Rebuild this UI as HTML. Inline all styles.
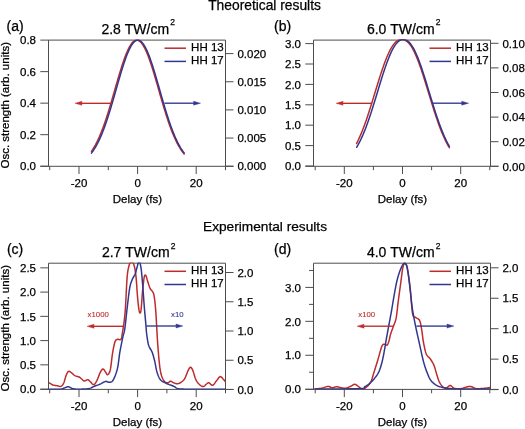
<!DOCTYPE html><html><head><meta charset="utf-8"><style>html,body{margin:0;padding:0;background:#fff;width:525px;height:429px;overflow:hidden}svg{display:block;filter:blur(0.3px)}text{font-family:"Liberation Sans",sans-serif;font-kerning:none;stroke-width:0.25px}</style></head><body>
<svg width="525" height="429" viewBox="0 0 525 429">
<rect width="525" height="429" fill="#fff"/>
<text x="208.20" y="9.60" font-size="13.8" text-anchor="start" fill="#000" stroke="#000">Theoretical results</text>
<text x="203.00" y="231.30" font-size="13.7" text-anchor="start" fill="#000" stroke="#000">Experimental results</text>
<clipPath id="ca"><rect x="48.5" y="39.300000000000004" width="177.0" height="127.00000000000001"/></clipPath>
<path d="M48.50,166.30 L48.50,40.10 L225.50,40.10 L225.50,166.30" fill="none" stroke="#4d4d4d" stroke-width="1" stroke-linejoin="round"/>
<line x1="40.30" y1="166.30" x2="233.50" y2="166.30" stroke="#4d4d4d" stroke-width="1.0"/>
<line x1="40.30" y1="166.20" x2="48.50" y2="166.20" stroke="#4d4d4d" stroke-width="1.0"/>
<text x="36.00" y="170.40" font-size="11.5" text-anchor="end" fill="#000" stroke="#000">0.0</text>
<line x1="40.30" y1="134.68" x2="48.50" y2="134.68" stroke="#4d4d4d" stroke-width="1.0"/>
<text x="36.00" y="138.88" font-size="11.5" text-anchor="end" fill="#000" stroke="#000">0.2</text>
<line x1="40.30" y1="103.16" x2="48.50" y2="103.16" stroke="#4d4d4d" stroke-width="1.0"/>
<text x="36.00" y="107.36" font-size="11.5" text-anchor="end" fill="#000" stroke="#000">0.4</text>
<line x1="40.30" y1="71.64" x2="48.50" y2="71.64" stroke="#4d4d4d" stroke-width="1.0"/>
<text x="36.00" y="75.84" font-size="11.5" text-anchor="end" fill="#000" stroke="#000">0.6</text>
<line x1="40.30" y1="40.12" x2="48.50" y2="40.12" stroke="#4d4d4d" stroke-width="1.0"/>
<text x="36.00" y="44.32" font-size="11.5" text-anchor="end" fill="#000" stroke="#000">0.8</text>
<line x1="225.50" y1="166.20" x2="233.50" y2="166.20" stroke="#4d4d4d" stroke-width="1.0"/>
<text x="237.40" y="170.40" font-size="11.5" text-anchor="start" fill="#000" stroke="#000">0.000</text>
<line x1="225.50" y1="138.05" x2="233.50" y2="138.05" stroke="#4d4d4d" stroke-width="1.0"/>
<text x="237.40" y="142.25" font-size="11.5" text-anchor="start" fill="#000" stroke="#000">0.005</text>
<line x1="225.50" y1="109.90" x2="233.50" y2="109.90" stroke="#4d4d4d" stroke-width="1.0"/>
<text x="237.40" y="114.10" font-size="11.5" text-anchor="start" fill="#000" stroke="#000">0.010</text>
<line x1="225.50" y1="81.75" x2="233.50" y2="81.75" stroke="#4d4d4d" stroke-width="1.0"/>
<text x="237.40" y="85.95" font-size="11.5" text-anchor="start" fill="#000" stroke="#000">0.015</text>
<line x1="225.50" y1="53.60" x2="233.50" y2="53.60" stroke="#4d4d4d" stroke-width="1.0"/>
<text x="237.40" y="57.80" font-size="11.5" text-anchor="start" fill="#000" stroke="#000">0.020</text>
<line x1="49.70" y1="166.30" x2="49.70" y2="170.20" stroke="#4d4d4d" stroke-width="1.0"/>
<line x1="79.00" y1="166.30" x2="79.00" y2="174.00" stroke="#4d4d4d" stroke-width="1.0"/>
<text x="79.00" y="186.50" font-size="11.5" text-anchor="middle" fill="#000" stroke="#000">-20</text>
<line x1="108.30" y1="166.30" x2="108.30" y2="170.20" stroke="#4d4d4d" stroke-width="1.0"/>
<line x1="137.60" y1="166.30" x2="137.60" y2="174.00" stroke="#4d4d4d" stroke-width="1.0"/>
<text x="137.60" y="186.50" font-size="11.5" text-anchor="middle" fill="#000" stroke="#000">0</text>
<line x1="166.90" y1="166.30" x2="166.90" y2="170.20" stroke="#4d4d4d" stroke-width="1.0"/>
<line x1="196.20" y1="166.30" x2="196.20" y2="174.00" stroke="#4d4d4d" stroke-width="1.0"/>
<text x="196.20" y="186.50" font-size="11.5" text-anchor="middle" fill="#000" stroke="#000">20</text>
<line x1="225.50" y1="166.30" x2="225.50" y2="170.20" stroke="#4d4d4d" stroke-width="1.0"/>
<text x="137.40" y="202.90" font-size="11.5" text-anchor="middle" fill="#000" stroke="#000">Delay (fs)</text>
<line x1="164.50" y1="48.20" x2="186.00" y2="48.20" stroke="#bd2b2b" stroke-width="1.5"/>
<line x1="164.50" y1="61.40" x2="186.00" y2="61.40" stroke="#303790" stroke-width="1.5"/>
<text x="191.10" y="50.80" font-size="11.5" text-anchor="start" fill="#000" stroke="#000">HH 13</text>
<text x="191.10" y="64.00" font-size="11.5" text-anchor="start" fill="#000" stroke="#000">HH 17</text>
<text x="101.40" y="33.80" font-size="14" fill="#000" stroke="#000">2.8 TW/cm<tspan font-size="8.5" dx="1.1" dy="-8.4">2</tspan></text>
<text x="6.50" y="30.60" font-size="14" text-anchor="start" fill="#000" stroke="#000">(a)</text>
<clipPath id="cb"><rect x="313.5" y="39.300000000000004" width="177.0" height="127.00000000000001"/></clipPath>
<path d="M313.50,166.30 L313.50,40.10 L490.50,40.10 L490.50,166.30" fill="none" stroke="#4d4d4d" stroke-width="1" stroke-linejoin="round"/>
<line x1="305.30" y1="166.30" x2="498.50" y2="166.30" stroke="#4d4d4d" stroke-width="1.0"/>
<line x1="305.30" y1="166.00" x2="313.50" y2="166.00" stroke="#4d4d4d" stroke-width="1.0"/>
<text x="301.00" y="170.20" font-size="11.5" text-anchor="end" fill="#000" stroke="#000">0.0</text>
<line x1="305.30" y1="145.60" x2="313.50" y2="145.60" stroke="#4d4d4d" stroke-width="1.0"/>
<text x="301.00" y="149.80" font-size="11.5" text-anchor="end" fill="#000" stroke="#000">0.5</text>
<line x1="305.30" y1="125.20" x2="313.50" y2="125.20" stroke="#4d4d4d" stroke-width="1.0"/>
<text x="301.00" y="129.40" font-size="11.5" text-anchor="end" fill="#000" stroke="#000">1.0</text>
<line x1="305.30" y1="104.80" x2="313.50" y2="104.80" stroke="#4d4d4d" stroke-width="1.0"/>
<text x="301.00" y="109.00" font-size="11.5" text-anchor="end" fill="#000" stroke="#000">1.5</text>
<line x1="305.30" y1="84.40" x2="313.50" y2="84.40" stroke="#4d4d4d" stroke-width="1.0"/>
<text x="301.00" y="88.60" font-size="11.5" text-anchor="end" fill="#000" stroke="#000">2.0</text>
<line x1="305.30" y1="64.00" x2="313.50" y2="64.00" stroke="#4d4d4d" stroke-width="1.0"/>
<text x="301.00" y="68.20" font-size="11.5" text-anchor="end" fill="#000" stroke="#000">2.5</text>
<line x1="305.30" y1="43.60" x2="313.50" y2="43.60" stroke="#4d4d4d" stroke-width="1.0"/>
<text x="301.00" y="47.80" font-size="11.5" text-anchor="end" fill="#000" stroke="#000">3.0</text>
<line x1="490.50" y1="166.30" x2="498.50" y2="166.30" stroke="#4d4d4d" stroke-width="1.0"/>
<text x="502.40" y="170.50" font-size="11.5" text-anchor="start" fill="#000" stroke="#000">0.00</text>
<line x1="490.50" y1="141.70" x2="498.50" y2="141.70" stroke="#4d4d4d" stroke-width="1.0"/>
<text x="502.40" y="145.90" font-size="11.5" text-anchor="start" fill="#000" stroke="#000">0.02</text>
<line x1="490.50" y1="117.10" x2="498.50" y2="117.10" stroke="#4d4d4d" stroke-width="1.0"/>
<text x="502.40" y="121.30" font-size="11.5" text-anchor="start" fill="#000" stroke="#000">0.04</text>
<line x1="490.50" y1="92.50" x2="498.50" y2="92.50" stroke="#4d4d4d" stroke-width="1.0"/>
<text x="502.40" y="96.70" font-size="11.5" text-anchor="start" fill="#000" stroke="#000">0.06</text>
<line x1="490.50" y1="67.90" x2="498.50" y2="67.90" stroke="#4d4d4d" stroke-width="1.0"/>
<text x="502.40" y="72.10" font-size="11.5" text-anchor="start" fill="#000" stroke="#000">0.08</text>
<line x1="490.50" y1="43.30" x2="498.50" y2="43.30" stroke="#4d4d4d" stroke-width="1.0"/>
<text x="502.40" y="47.50" font-size="11.5" text-anchor="start" fill="#000" stroke="#000">0.10</text>
<line x1="315.20" y1="166.30" x2="315.20" y2="170.20" stroke="#4d4d4d" stroke-width="1.0"/>
<line x1="344.30" y1="166.30" x2="344.30" y2="174.00" stroke="#4d4d4d" stroke-width="1.0"/>
<text x="344.30" y="186.50" font-size="11.5" text-anchor="middle" fill="#000" stroke="#000">-20</text>
<line x1="373.40" y1="166.30" x2="373.40" y2="170.20" stroke="#4d4d4d" stroke-width="1.0"/>
<line x1="402.50" y1="166.30" x2="402.50" y2="174.00" stroke="#4d4d4d" stroke-width="1.0"/>
<text x="402.50" y="186.50" font-size="11.5" text-anchor="middle" fill="#000" stroke="#000">0</text>
<line x1="431.60" y1="166.30" x2="431.60" y2="170.20" stroke="#4d4d4d" stroke-width="1.0"/>
<line x1="460.70" y1="166.30" x2="460.70" y2="174.00" stroke="#4d4d4d" stroke-width="1.0"/>
<text x="460.70" y="186.50" font-size="11.5" text-anchor="middle" fill="#000" stroke="#000">20</text>
<line x1="489.80" y1="166.30" x2="489.80" y2="170.20" stroke="#4d4d4d" stroke-width="1.0"/>
<text x="402.40" y="202.90" font-size="11.5" text-anchor="middle" fill="#000" stroke="#000">Delay (fs)</text>
<line x1="429.50" y1="48.20" x2="451.00" y2="48.20" stroke="#bd2b2b" stroke-width="1.5"/>
<line x1="429.50" y1="61.40" x2="451.00" y2="61.40" stroke="#303790" stroke-width="1.5"/>
<text x="456.10" y="50.80" font-size="11.5" text-anchor="start" fill="#000" stroke="#000">HH 13</text>
<text x="456.10" y="64.00" font-size="11.5" text-anchor="start" fill="#000" stroke="#000">HH 17</text>
<text x="366.90" y="33.80" font-size="14" fill="#000" stroke="#000">6.0 TW/cm<tspan font-size="8.5" dx="1.1" dy="-8.4">2</tspan></text>
<text x="274.10" y="30.60" font-size="14" text-anchor="start" fill="#000" stroke="#000">(b)</text>
<clipPath id="cc"><rect x="48.5" y="262.4" width="177.0" height="126.99999999999999"/></clipPath>
<path d="M48.50,389.40 L48.50,263.20 L225.50,263.20 L225.50,389.40" fill="none" stroke="#4d4d4d" stroke-width="1" stroke-linejoin="round"/>
<line x1="40.30" y1="389.40" x2="233.50" y2="389.40" stroke="#4d4d4d" stroke-width="1.0"/>
<line x1="40.30" y1="389.10" x2="48.50" y2="389.10" stroke="#4d4d4d" stroke-width="1.0"/>
<text x="36.00" y="393.30" font-size="11.5" text-anchor="end" fill="#000" stroke="#000">0.0</text>
<line x1="40.30" y1="364.85" x2="48.50" y2="364.85" stroke="#4d4d4d" stroke-width="1.0"/>
<text x="36.00" y="369.05" font-size="11.5" text-anchor="end" fill="#000" stroke="#000">0.5</text>
<line x1="40.30" y1="340.60" x2="48.50" y2="340.60" stroke="#4d4d4d" stroke-width="1.0"/>
<text x="36.00" y="344.80" font-size="11.5" text-anchor="end" fill="#000" stroke="#000">1.0</text>
<line x1="40.30" y1="316.35" x2="48.50" y2="316.35" stroke="#4d4d4d" stroke-width="1.0"/>
<text x="36.00" y="320.55" font-size="11.5" text-anchor="end" fill="#000" stroke="#000">1.5</text>
<line x1="40.30" y1="292.10" x2="48.50" y2="292.10" stroke="#4d4d4d" stroke-width="1.0"/>
<text x="36.00" y="296.30" font-size="11.5" text-anchor="end" fill="#000" stroke="#000">2.0</text>
<line x1="40.30" y1="267.85" x2="48.50" y2="267.85" stroke="#4d4d4d" stroke-width="1.0"/>
<text x="36.00" y="272.05" font-size="11.5" text-anchor="end" fill="#000" stroke="#000">2.5</text>
<line x1="225.50" y1="389.50" x2="233.50" y2="389.50" stroke="#4d4d4d" stroke-width="1.0"/>
<text x="237.40" y="393.70" font-size="11.5" text-anchor="start" fill="#000" stroke="#000">0.0</text>
<line x1="225.50" y1="360.25" x2="233.50" y2="360.25" stroke="#4d4d4d" stroke-width="1.0"/>
<text x="237.40" y="364.45" font-size="11.5" text-anchor="start" fill="#000" stroke="#000">0.5</text>
<line x1="225.50" y1="331.00" x2="233.50" y2="331.00" stroke="#4d4d4d" stroke-width="1.0"/>
<text x="237.40" y="335.20" font-size="11.5" text-anchor="start" fill="#000" stroke="#000">1.0</text>
<line x1="225.50" y1="301.75" x2="233.50" y2="301.75" stroke="#4d4d4d" stroke-width="1.0"/>
<text x="237.40" y="305.95" font-size="11.5" text-anchor="start" fill="#000" stroke="#000">1.5</text>
<line x1="225.50" y1="272.50" x2="233.50" y2="272.50" stroke="#4d4d4d" stroke-width="1.0"/>
<text x="237.40" y="276.70" font-size="11.5" text-anchor="start" fill="#000" stroke="#000">2.0</text>
<line x1="49.70" y1="389.40" x2="49.70" y2="393.30" stroke="#4d4d4d" stroke-width="1.0"/>
<line x1="79.00" y1="389.40" x2="79.00" y2="397.10" stroke="#4d4d4d" stroke-width="1.0"/>
<text x="79.00" y="409.60" font-size="11.5" text-anchor="middle" fill="#000" stroke="#000">-20</text>
<line x1="108.30" y1="389.40" x2="108.30" y2="393.30" stroke="#4d4d4d" stroke-width="1.0"/>
<line x1="137.60" y1="389.40" x2="137.60" y2="397.10" stroke="#4d4d4d" stroke-width="1.0"/>
<text x="137.60" y="409.60" font-size="11.5" text-anchor="middle" fill="#000" stroke="#000">0</text>
<line x1="166.90" y1="389.40" x2="166.90" y2="393.30" stroke="#4d4d4d" stroke-width="1.0"/>
<line x1="196.20" y1="389.40" x2="196.20" y2="397.10" stroke="#4d4d4d" stroke-width="1.0"/>
<text x="196.20" y="409.60" font-size="11.5" text-anchor="middle" fill="#000" stroke="#000">20</text>
<line x1="225.50" y1="389.40" x2="225.50" y2="393.30" stroke="#4d4d4d" stroke-width="1.0"/>
<text x="137.40" y="426.00" font-size="11.5" text-anchor="middle" fill="#000" stroke="#000">Delay (fs)</text>
<line x1="164.50" y1="271.30" x2="186.00" y2="271.30" stroke="#bd2b2b" stroke-width="1.5"/>
<line x1="164.50" y1="284.50" x2="186.00" y2="284.50" stroke="#303790" stroke-width="1.5"/>
<text x="191.10" y="273.90" font-size="11.5" text-anchor="start" fill="#000" stroke="#000">HH 13</text>
<text x="191.10" y="287.10" font-size="11.5" text-anchor="start" fill="#000" stroke="#000">HH 17</text>
<text x="101.90" y="256.90" font-size="14" fill="#000" stroke="#000">2.7 TW/cm<tspan font-size="8.5" dx="1.1" dy="-8.4">2</tspan></text>
<text x="6.90" y="253.70" font-size="14" text-anchor="start" fill="#000" stroke="#000">(c)</text>
<clipPath id="cd"><rect x="313.5" y="262.4" width="177.0" height="126.99999999999999"/></clipPath>
<path d="M313.50,389.40 L313.50,263.20 L490.50,263.20 L490.50,389.40" fill="none" stroke="#4d4d4d" stroke-width="1" stroke-linejoin="round"/>
<line x1="305.30" y1="389.40" x2="498.50" y2="389.40" stroke="#4d4d4d" stroke-width="1.0"/>
<line x1="305.30" y1="389.20" x2="313.50" y2="389.20" stroke="#4d4d4d" stroke-width="1.0"/>
<text x="301.00" y="393.40" font-size="11.5" text-anchor="end" fill="#000" stroke="#000">0.0</text>
<line x1="309.10" y1="372.24" x2="313.50" y2="372.24" stroke="#4d4d4d" stroke-width="1.0"/>
<line x1="305.30" y1="355.27" x2="313.50" y2="355.27" stroke="#4d4d4d" stroke-width="1.0"/>
<text x="301.00" y="359.47" font-size="11.5" text-anchor="end" fill="#000" stroke="#000">1.0</text>
<line x1="309.10" y1="338.31" x2="313.50" y2="338.31" stroke="#4d4d4d" stroke-width="1.0"/>
<line x1="305.30" y1="321.34" x2="313.50" y2="321.34" stroke="#4d4d4d" stroke-width="1.0"/>
<text x="301.00" y="325.54" font-size="11.5" text-anchor="end" fill="#000" stroke="#000">2.0</text>
<line x1="309.10" y1="304.38" x2="313.50" y2="304.38" stroke="#4d4d4d" stroke-width="1.0"/>
<line x1="305.30" y1="287.41" x2="313.50" y2="287.41" stroke="#4d4d4d" stroke-width="1.0"/>
<text x="301.00" y="291.61" font-size="11.5" text-anchor="end" fill="#000" stroke="#000">3.0</text>
<line x1="309.10" y1="270.44" x2="313.50" y2="270.44" stroke="#4d4d4d" stroke-width="1.0"/>
<line x1="490.50" y1="389.60" x2="498.50" y2="389.60" stroke="#4d4d4d" stroke-width="1.0"/>
<text x="502.40" y="393.80" font-size="11.5" text-anchor="start" fill="#000" stroke="#000">0.0</text>
<line x1="490.50" y1="359.15" x2="498.50" y2="359.15" stroke="#4d4d4d" stroke-width="1.0"/>
<text x="502.40" y="363.35" font-size="11.5" text-anchor="start" fill="#000" stroke="#000">0.5</text>
<line x1="490.50" y1="328.70" x2="498.50" y2="328.70" stroke="#4d4d4d" stroke-width="1.0"/>
<text x="502.40" y="332.90" font-size="11.5" text-anchor="start" fill="#000" stroke="#000">1.0</text>
<line x1="490.50" y1="298.25" x2="498.50" y2="298.25" stroke="#4d4d4d" stroke-width="1.0"/>
<text x="502.40" y="302.45" font-size="11.5" text-anchor="start" fill="#000" stroke="#000">1.5</text>
<line x1="490.50" y1="267.80" x2="498.50" y2="267.80" stroke="#4d4d4d" stroke-width="1.0"/>
<text x="502.40" y="272.00" font-size="11.5" text-anchor="start" fill="#000" stroke="#000">2.0</text>
<line x1="315.20" y1="389.40" x2="315.20" y2="393.30" stroke="#4d4d4d" stroke-width="1.0"/>
<line x1="344.30" y1="389.40" x2="344.30" y2="397.10" stroke="#4d4d4d" stroke-width="1.0"/>
<text x="344.30" y="409.60" font-size="11.5" text-anchor="middle" fill="#000" stroke="#000">-20</text>
<line x1="373.40" y1="389.40" x2="373.40" y2="393.30" stroke="#4d4d4d" stroke-width="1.0"/>
<line x1="402.50" y1="389.40" x2="402.50" y2="397.10" stroke="#4d4d4d" stroke-width="1.0"/>
<text x="402.50" y="409.60" font-size="11.5" text-anchor="middle" fill="#000" stroke="#000">0</text>
<line x1="431.60" y1="389.40" x2="431.60" y2="393.30" stroke="#4d4d4d" stroke-width="1.0"/>
<line x1="460.70" y1="389.40" x2="460.70" y2="397.10" stroke="#4d4d4d" stroke-width="1.0"/>
<text x="460.70" y="409.60" font-size="11.5" text-anchor="middle" fill="#000" stroke="#000">20</text>
<line x1="489.80" y1="389.40" x2="489.80" y2="393.30" stroke="#4d4d4d" stroke-width="1.0"/>
<text x="402.40" y="426.00" font-size="11.5" text-anchor="middle" fill="#000" stroke="#000">Delay (fs)</text>
<line x1="429.50" y1="271.30" x2="451.00" y2="271.30" stroke="#bd2b2b" stroke-width="1.5"/>
<line x1="429.50" y1="284.50" x2="451.00" y2="284.50" stroke="#303790" stroke-width="1.5"/>
<text x="456.10" y="273.90" font-size="11.5" text-anchor="start" fill="#000" stroke="#000">HH 13</text>
<text x="456.10" y="287.10" font-size="11.5" text-anchor="start" fill="#000" stroke="#000">HH 17</text>
<text x="366.90" y="256.90" font-size="14" fill="#000" stroke="#000">4.0 TW/cm<tspan font-size="8.5" dx="1.1" dy="-8.4">2</tspan></text>
<text x="274.10" y="253.70" font-size="14" text-anchor="start" fill="#000" stroke="#000">(d)</text>
<text transform="translate(9.1,105.3) rotate(-90)" font-size="11.5" text-anchor="middle" fill="#000" stroke="#000">Osc. strength (arb. units)</text>
<text transform="translate(9.1,328.3) rotate(-90)" font-size="11.5" text-anchor="middle" fill="#000" stroke="#000">Osc. strength (arb. units)</text>
<path d="M91.45,151.31 L92.23,150.19 L93.00,149.01 L93.77,147.77 L94.54,146.46 L95.32,145.09 L96.09,143.65 L96.86,142.14 L97.63,140.56 L98.41,138.91 L99.18,137.19 L99.95,135.40 L100.73,133.54 L101.50,131.62 L102.27,129.62 L103.04,127.56 L103.82,125.43 L104.59,123.24 L105.36,120.99 L106.14,118.67 L106.91,116.31 L107.68,113.88 L108.45,111.41 L109.23,108.90 L110.00,106.34 L110.77,103.75 L111.54,101.12 L112.32,98.47 L113.09,95.80 L113.86,93.11 L114.64,90.42 L115.41,87.72 L116.18,85.03 L116.95,82.35 L117.73,79.69 L118.50,77.06 L119.27,74.46 L120.05,71.90 L120.82,69.40 L121.59,66.94 L122.36,64.56 L123.14,62.24 L123.91,60.00 L124.68,57.86 L125.46,55.80 L126.23,53.85 L127.00,52.00 L127.77,50.26 L128.55,48.65 L129.32,47.16 L130.09,45.81 L130.86,44.59 L131.64,43.50 L132.41,42.57 L133.18,41.78 L133.96,41.14 L134.73,40.66 L135.50,40.32 L136.27,40.15 L137.05,40.13 L137.82,40.27 L138.59,40.56 L139.37,41.01 L140.14,41.62 L140.91,42.37 L141.68,43.27 L142.46,44.32 L143.23,45.51 L144.00,46.84 L144.77,48.29 L145.55,49.88 L146.32,51.58 L147.09,53.41 L147.87,55.34 L148.64,57.37 L149.41,59.50 L150.18,61.71 L150.96,64.01 L151.73,66.38 L152.50,68.82 L153.28,71.32 L154.05,73.86 L154.82,76.45 L155.59,79.08 L156.37,81.73 L157.14,84.41 L157.91,87.10 L158.69,89.79 L159.46,92.49 L160.23,95.18 L161.00,97.85 L161.78,100.51 L162.55,103.14 L163.32,105.74 L164.09,108.31 L164.87,110.83 L165.64,113.32 L166.41,115.75 L167.19,118.13 L167.96,120.46 L168.73,122.72 L169.50,124.93 L170.28,127.07 L171.05,129.15 L171.82,131.16 L172.60,133.10 L173.37,134.98 L174.14,136.78 L174.91,138.52 L175.69,140.18 L176.46,141.78 L177.23,143.30 L178.00,144.76 L178.78,146.15 L179.55,147.47 L180.32,148.73 L181.10,149.92 L181.87,151.05 L182.64,152.12 L183.41,153.13 L184.19,154.08" fill="none" stroke="#bd2b2b" stroke-width="1.5" stroke-linejoin="round" stroke-linecap="round" clip-path="url(#ca)"/>
<path d="M91.45,153.13 L92.23,152.11 L93.00,151.04 L93.77,149.90 L94.54,148.70 L95.32,147.43 L96.09,146.10 L96.86,144.70 L97.63,143.23 L98.41,141.69 L99.18,140.09 L99.95,138.41 L100.73,136.66 L101.50,134.84 L102.27,132.95 L103.04,130.99 L103.82,128.96 L104.59,126.87 L105.36,124.71 L106.14,122.48 L106.91,120.20 L107.68,117.85 L108.45,115.45 L109.23,113.00 L110.00,110.50 L110.77,107.95 L111.54,105.37 L112.32,102.75 L113.09,100.10 L113.86,97.42 L114.64,94.73 L115.41,92.03 L116.18,89.32 L116.95,86.61 L117.73,83.91 L118.50,81.22 L119.27,78.56 L120.05,75.92 L120.82,73.33 L121.59,70.78 L122.36,68.28 L123.14,65.84 L123.91,63.48 L124.68,61.18 L125.46,58.98 L126.23,56.86 L127.00,54.84 L127.77,52.93 L128.55,51.13 L129.32,49.44 L130.09,47.88 L130.86,46.45 L131.64,45.16 L132.41,44.00 L133.18,42.99 L133.96,42.13 L134.73,41.42 L135.50,40.86 L136.27,40.45 L137.05,40.21 L137.82,40.12 L138.59,40.19 L139.37,40.42 L140.14,40.80 L140.91,41.35 L141.68,42.04 L142.46,42.89 L143.23,43.88 L144.00,45.02 L144.77,46.30 L145.55,47.71 L146.32,49.26 L147.09,50.93 L147.87,52.72 L148.64,54.62 L149.41,56.63 L150.18,58.73 L150.96,60.93 L151.73,63.21 L152.50,65.57 L153.28,68.00 L154.05,70.49 L154.82,73.04 L155.59,75.63 L156.37,78.26 L157.14,80.92 L157.91,83.60 L158.69,86.30 L159.46,89.01 L160.23,91.72 L161.00,94.43 L161.78,97.12 L162.55,99.80 L163.32,102.45 L164.09,105.07 L164.87,107.66 L165.64,110.21 L166.41,112.72 L167.19,115.18 L167.96,117.58 L168.73,119.93 L169.50,122.23 L170.28,124.46 L171.05,126.63 L171.82,128.73 L172.60,130.76 L173.37,132.73 L174.14,134.63 L174.91,136.46 L175.69,138.21 L176.46,139.90 L177.23,141.52 L178.00,143.06 L178.78,144.54 L179.55,145.94 L180.32,147.28 L181.10,148.56 L181.87,149.76 L182.64,150.91 L183.41,151.99 L184.19,153.01" fill="none" stroke="#303790" stroke-width="1.5" stroke-linejoin="round" stroke-linecap="round" clip-path="url(#ca)"/>
<line x1="111.00" y1="103.30" x2="81.00" y2="103.30" stroke="#bd2b2b" stroke-width="1.35"/>
<path d="M75.00,103.30 L82.00,101.30 L81.70,103.30 L82.00,105.30 Z" fill="#bd2b2b" stroke="#bd2b2b" stroke-width="0.4" stroke-linejoin="round"/>
<line x1="164.40" y1="103.20" x2="194.50" y2="103.20" stroke="#303790" stroke-width="1.35"/>
<path d="M200.50,103.20 L193.50,101.20 L193.80,103.20 L193.50,105.20 Z" fill="#303790" stroke="#303790" stroke-width="0.4" stroke-linejoin="round"/>
<path d="M356.52,143.53 L357.30,142.03 L358.07,140.47 L358.84,138.85 L359.62,137.16 L360.39,135.41 L361.16,133.59 L361.94,131.70 L362.71,129.76 L363.48,127.75 L364.26,125.69 L365.03,123.57 L365.80,121.40 L366.58,119.17 L367.35,116.89 L368.13,114.57 L368.90,112.21 L369.67,109.81 L370.45,107.37 L371.22,104.91 L371.99,102.42 L372.77,99.90 L373.54,97.38 L374.31,94.84 L375.09,92.30 L375.86,89.76 L376.63,87.23 L377.41,84.71 L378.18,82.20 L378.96,79.72 L379.73,77.28 L380.50,74.86 L381.28,72.49 L382.05,70.17 L382.82,67.90 L383.60,65.69 L384.37,63.54 L385.14,61.46 L385.92,59.46 L386.69,57.53 L387.46,55.69 L388.24,53.94 L389.01,52.27 L389.79,50.70 L390.56,49.23 L391.33,47.87 L392.11,46.60 L392.88,45.44 L393.65,44.38 L394.43,43.43 L395.20,42.59 L395.97,41.85 L396.75,41.22 L397.52,40.70 L398.30,40.28 L399.07,39.95 L399.84,39.72 L400.62,39.58 L401.39,39.53 L402.16,39.53 L402.94,39.59 L403.71,39.74 L404.48,39.98 L405.26,40.31 L406.03,40.74 L406.80,41.27 L407.58,41.91 L408.35,42.66 L409.13,43.51 L409.90,44.47 L410.67,45.53 L411.45,46.70 L412.22,47.98 L412.99,49.36 L413.77,50.83 L414.54,52.41 L415.31,54.08 L416.09,55.84 L416.86,57.69 L417.63,59.62 L418.41,61.63 L419.18,63.72 L419.96,65.87 L420.73,68.09 L421.50,70.36 L422.28,72.69 L423.05,75.07 L423.82,77.48 L424.60,79.93 L425.37,82.41 L426.14,84.92 L426.92,87.44 L427.69,89.98 L428.46,92.52 L429.24,95.06 L430.01,97.59 L430.79,100.12 L431.56,102.63 L432.33,105.12 L433.11,107.58 L433.88,110.01 L434.65,112.41 L435.43,114.77 L436.20,117.09 L436.97,119.36 L437.75,121.58 L438.52,123.75 L439.29,125.87 L440.07,127.93 L440.84,129.93 L441.62,131.87 L442.39,133.74 L443.16,135.56 L443.94,137.31 L444.71,138.99 L445.48,140.61 L446.26,142.16 L447.03,143.65 L447.80,145.07 L448.58,146.43 L449.35,147.73" fill="none" stroke="#bd2b2b" stroke-width="1.5" stroke-linejoin="round" stroke-linecap="round" clip-path="url(#cb)"/>
<path d="M356.67,147.30 L357.44,146.00 L358.21,144.63 L358.98,143.20 L359.76,141.71 L360.53,140.15 L361.30,138.52 L362.07,136.83 L362.85,135.07 L363.62,133.25 L364.39,131.37 L365.16,129.43 L365.94,127.42 L366.71,125.36 L367.48,123.24 L368.25,121.06 L369.03,118.83 L369.80,116.56 L370.57,114.23 L371.34,111.87 L372.11,109.46 L372.89,107.02 L373.66,104.55 L374.43,102.06 L375.20,99.54 L375.98,97.01 L376.75,94.46 L377.52,91.91 L378.29,89.36 L379.07,86.82 L379.84,84.28 L380.61,81.77 L381.38,79.28 L382.16,76.81 L382.93,74.39 L383.70,72.00 L384.47,69.67 L385.24,67.38 L386.02,65.16 L386.79,63.00 L387.56,60.91 L388.33,58.90 L389.11,56.96 L389.88,55.11 L390.65,53.36 L391.42,51.69 L392.20,50.13 L392.97,48.66 L393.74,47.30 L394.51,46.05 L395.29,44.90 L396.06,43.87 L396.83,42.95 L397.60,42.14 L398.38,41.44 L399.15,40.86 L399.92,40.38 L400.69,40.02 L401.46,39.75 L402.24,39.59 L403.01,39.52 L403.78,39.53 L404.55,39.62 L405.33,39.80 L406.10,40.08 L406.87,40.47 L407.64,40.97 L408.42,41.58 L409.19,42.30 L409.96,43.13 L410.73,44.08 L411.51,45.13 L412.28,46.30 L413.05,47.58 L413.82,48.96 L414.59,50.45 L415.37,52.03 L416.14,53.72 L416.91,55.49 L417.68,57.36 L418.46,59.31 L419.23,61.34 L420.00,63.44 L420.77,65.62 L421.55,67.85 L422.32,70.15 L423.09,72.50 L423.86,74.89 L424.64,77.33 L425.41,79.79 L426.18,82.29 L426.95,84.81 L427.72,87.35 L428.50,89.89 L429.27,92.44 L430.04,94.99 L430.81,97.54 L431.59,100.07 L432.36,102.58 L433.13,105.07 L433.90,107.53 L434.68,109.97 L435.45,112.36 L436.22,114.72 L436.99,117.04 L437.77,119.30 L438.54,121.52 L439.31,123.68 L440.08,125.79 L440.86,127.85 L441.63,129.84 L442.40,131.77 L443.17,133.64 L443.94,135.45 L444.72,137.19 L445.49,138.86 L446.26,140.48 L447.03,142.02 L447.81,143.51 L448.58,144.92 L449.35,146.28" fill="none" stroke="#303790" stroke-width="1.5" stroke-linejoin="round" stroke-linecap="round" clip-path="url(#cb)"/>
<line x1="371.90" y1="103.30" x2="342.10" y2="103.30" stroke="#bd2b2b" stroke-width="1.35"/>
<path d="M336.10,103.30 L343.10,101.30 L342.80,103.30 L343.10,105.30 Z" fill="#bd2b2b" stroke="#bd2b2b" stroke-width="0.4" stroke-linejoin="round"/>
<line x1="433.00" y1="103.20" x2="462.60" y2="103.20" stroke="#303790" stroke-width="1.35"/>
<path d="M468.60,103.20 L461.60,101.20 L461.90,103.20 L461.60,105.20 Z" fill="#303790" stroke="#303790" stroke-width="0.4" stroke-linejoin="round"/>
<path d="M49.50,383.00 L49.77,383.16 L50.12,383.39 L50.53,383.66 L51.00,383.96 L51.50,384.26 L52.01,384.54 L52.51,384.80 L53.00,385.00 L53.48,385.15 L53.96,385.27 L54.46,385.36 L54.97,385.44 L55.48,385.50 L55.99,385.56 L56.50,385.63 L57.00,385.70 L57.51,385.81 L58.03,385.95 L58.56,386.10 L59.08,386.25 L59.60,386.37 L60.09,386.43 L60.56,386.41 L61.00,386.30 L61.40,386.11 L61.77,385.86 L62.11,385.55 L62.44,385.19 L62.75,384.75 L63.06,384.25 L63.38,383.66 L63.70,383.00 L64.03,382.20 L64.36,381.23 L64.69,380.16 L65.02,379.02 L65.34,377.89 L65.67,376.81 L65.99,375.83 L66.30,375.00 L66.61,374.29 L66.90,373.65 L67.19,373.06 L67.47,372.54 L67.76,372.10 L68.06,371.74 L68.37,371.47 L68.70,371.30 L69.04,371.25 L69.40,371.32 L69.77,371.50 L70.14,371.75 L70.53,372.05 L70.91,372.38 L71.31,372.70 L71.70,373.00 L72.09,373.30 L72.49,373.64 L72.88,374.00 L73.29,374.38 L73.70,374.75 L74.12,375.10 L74.55,375.42 L75.00,375.70 L75.48,375.92 L75.98,376.11 L76.51,376.26 L77.04,376.39 L77.56,376.52 L78.08,376.66 L78.56,376.81 L79.00,377.00 L79.40,377.22 L79.77,377.45 L80.11,377.70 L80.44,377.96 L80.75,378.22 L81.06,378.48 L81.38,378.75 L81.70,379.00 L82.02,379.27 L82.34,379.58 L82.65,379.90 L82.96,380.21 L83.27,380.49 L83.60,380.73 L83.94,380.91 L84.30,381.00 L84.69,380.97 L85.11,380.83 L85.55,380.61 L86.00,380.35 L86.45,380.09 L86.89,379.87 L87.31,379.73 L87.70,379.70 L88.06,379.79 L88.39,379.95 L88.70,380.17 L89.00,380.44 L89.30,380.74 L89.61,381.06 L89.94,381.38 L90.30,381.70 L90.69,382.07 L91.10,382.53 L91.52,383.04 L91.96,383.54 L92.40,384.00 L92.84,384.36 L93.27,384.58 L93.70,384.60 L94.12,384.43 L94.53,384.12 L94.94,383.68 L95.36,383.13 L95.77,382.50 L96.18,381.80 L96.59,381.06 L97.00,380.30 L97.42,379.44 L97.84,378.45 L98.26,377.36 L98.69,376.24 L99.11,375.12 L99.52,374.06 L99.92,373.10 L100.30,372.30 L100.67,371.62 L101.02,370.99 L101.36,370.43 L101.69,369.94 L102.01,369.55 L102.34,369.25 L102.67,369.06 L103.00,369.00 L103.34,369.10 L103.69,369.38 L104.04,369.79 L104.39,370.29 L104.74,370.84 L105.07,371.38 L105.40,371.89 L105.70,372.30 L105.98,372.69 L106.24,373.14 L106.47,373.59 L106.71,374.02 L106.94,374.38 L107.17,374.64 L107.43,374.76 L107.70,374.70 L108.00,374.50 L108.32,374.23 L108.65,373.85 L108.99,373.36 L109.33,372.71 L109.66,371.90 L109.99,370.91 L110.30,369.70 L110.59,368.19 L110.87,366.35 L111.14,364.29 L111.41,362.07 L111.67,359.81 L111.94,357.58 L112.21,355.48 L112.50,353.60 L112.80,351.86 L113.10,350.13 L113.41,348.45 L113.72,346.85 L114.04,345.35 L114.36,344.00 L114.68,342.80 L115.00,341.80 L115.32,341.03 L115.63,340.46 L115.94,340.07 L116.25,339.81 L116.57,339.65 L116.90,339.53 L117.24,339.43 L117.60,339.30 L117.99,339.23 L118.41,339.30 L118.86,339.45 L119.31,339.62 L119.75,339.75 L120.17,339.78 L120.56,339.65 L120.90,339.30 L121.19,338.74 L121.44,338.03 L121.65,337.19 L121.85,336.23 L122.03,335.18 L122.21,334.07 L122.40,332.90 L122.60,331.70 L122.82,330.44 L123.04,329.10 L123.26,327.67 L123.48,326.19 L123.70,324.67 L123.91,323.12 L124.11,321.56 L124.30,320.00 L124.47,318.54 L124.63,317.20 L124.77,315.90 L124.91,314.55 L125.04,313.06 L125.18,311.35 L125.33,309.32 L125.50,306.90 L125.68,303.89 L125.87,300.29 L126.07,296.30 L126.27,292.12 L126.48,287.97 L126.68,284.02 L126.89,280.50 L127.10,277.60 L127.31,275.29 L127.52,273.38 L127.73,271.80 L127.94,270.48 L128.15,269.36 L128.37,268.36 L128.58,267.43 L128.80,266.50 L129.02,265.62 L129.24,264.87 L129.46,264.24 L129.68,263.71 L129.91,263.26 L130.13,262.89 L130.36,262.58 L130.60,262.30 L130.84,262.07 L131.09,261.89 L131.34,261.79 L131.59,261.74 L131.85,261.77 L132.10,261.87 L132.35,262.05 L132.60,262.30 L132.84,262.62 L133.09,263.01 L133.33,263.46 L133.57,263.99 L133.81,264.60 L134.05,265.30 L134.28,266.10 L134.50,267.00 L134.71,267.97 L134.92,268.99 L135.12,270.08 L135.32,271.27 L135.51,272.59 L135.71,274.07 L135.90,275.73 L136.10,277.60 L136.30,279.80 L136.50,282.35 L136.70,285.13 L136.89,288.05 L137.09,290.98 L137.29,293.83 L137.50,296.47 L137.70,298.80 L137.91,300.92 L138.12,302.97 L138.33,304.92 L138.55,306.73 L138.77,308.35 L138.98,309.77 L139.19,310.93 L139.40,311.80 L139.60,312.42 L139.81,312.85 L140.01,313.06 L140.21,313.04 L140.40,312.76 L140.60,312.21 L140.80,311.36 L141.00,310.20 L141.20,308.57 L141.40,306.43 L141.60,303.91 L141.79,301.16 L141.99,298.32 L142.19,295.51 L142.40,292.90 L142.60,290.60 L142.81,288.51 L143.02,286.45 L143.23,284.45 L143.45,282.55 L143.67,280.80 L143.88,279.23 L144.09,277.88 L144.30,276.80 L144.50,276.00 L144.71,275.46 L144.91,275.15 L145.11,275.01 L145.30,275.03 L145.50,275.15 L145.70,275.36 L145.90,275.60 L146.09,275.93 L146.28,276.40 L146.46,276.98 L146.64,277.66 L146.83,278.41 L147.04,279.20 L147.26,280.00 L147.50,280.80 L147.77,281.65 L148.06,282.59 L148.38,283.60 L148.70,284.62 L149.03,285.64 L149.36,286.59 L149.69,287.46 L150.00,288.20 L150.31,288.79 L150.63,289.27 L150.94,289.67 L151.26,290.01 L151.56,290.32 L151.86,290.64 L152.14,290.99 L152.40,291.40 L152.64,291.80 L152.85,292.11 L153.05,292.41 L153.24,292.73 L153.43,293.15 L153.61,293.71 L153.80,294.47 L154.00,295.50 L154.20,296.69 L154.41,297.95 L154.61,299.34 L154.82,300.92 L155.03,302.73 L155.24,304.85 L155.47,307.32 L155.70,310.20 L155.94,313.67 L156.19,317.75 L156.44,322.27 L156.70,327.05 L156.97,331.91 L157.24,336.67 L157.52,341.16 L157.80,345.20 L158.09,348.91 L158.38,352.52 L158.67,356.00 L158.97,359.31 L159.28,362.42 L159.60,365.31 L159.94,367.95 L160.30,370.30 L160.68,372.33 L161.08,374.06 L161.49,375.52 L161.92,376.77 L162.36,377.84 L162.80,378.77 L163.25,379.61 L163.70,380.40 L164.16,381.10 L164.64,381.64 L165.13,382.04 L165.62,382.33 L166.11,382.53 L166.59,382.66 L167.06,382.74 L167.50,382.80 L167.92,382.77 L168.32,382.61 L168.71,382.35 L169.09,382.05 L169.47,381.74 L169.84,381.47 L170.22,381.27 L170.60,381.20 L170.98,381.25 L171.36,381.39 L171.74,381.60 L172.11,381.84 L172.49,382.11 L172.88,382.37 L173.28,382.61 L173.70,382.80 L174.13,382.96 L174.58,383.13 L175.04,383.29 L175.51,383.44 L175.99,383.57 L176.46,383.66 L176.93,383.71 L177.40,383.70 L177.86,383.64 L178.33,383.55 L178.79,383.41 L179.25,383.24 L179.71,383.03 L180.18,382.79 L180.64,382.51 L181.10,382.20 L181.57,381.87 L182.04,381.52 L182.51,381.14 L182.99,380.72 L183.46,380.26 L183.92,379.74 L184.37,379.16 L184.80,378.50 L185.22,377.72 L185.63,376.80 L186.03,375.80 L186.43,374.75 L186.81,373.70 L187.18,372.70 L187.55,371.78 L187.90,371.00 L188.24,370.31 L188.57,369.65 L188.89,369.04 L189.19,368.49 L189.50,368.02 L189.80,367.66 L190.10,367.41 L190.40,367.30 L190.70,367.32 L190.99,367.45 L191.28,367.69 L191.56,368.04 L191.85,368.48 L192.15,369.03 L192.47,369.67 L192.80,370.40 L193.15,371.30 L193.51,372.39 L193.88,373.62 L194.26,374.93 L194.66,376.25 L195.06,377.53 L195.47,378.70 L195.90,379.70 L196.34,380.55 L196.80,381.33 L197.28,382.03 L197.76,382.67 L198.25,383.25 L198.74,383.78 L199.23,384.26 L199.70,384.70 L200.17,385.11 L200.65,385.48 L201.12,385.80 L201.59,386.07 L202.06,386.28 L202.52,386.43 L202.97,386.50 L203.40,386.50 L203.82,386.38 L204.23,386.15 L204.64,385.82 L205.03,385.44 L205.42,385.03 L205.79,384.63 L206.15,384.28 L206.50,384.00 L206.82,383.76 L207.12,383.52 L207.39,383.29 L207.66,383.09 L207.94,382.92 L208.22,382.81 L208.54,382.76 L208.90,382.80 L209.30,382.98 L209.73,383.33 L210.19,383.77 L210.66,384.25 L211.15,384.71 L211.64,385.07 L212.12,385.29 L212.60,385.30 L213.07,385.08 L213.55,384.68 L214.02,384.15 L214.50,383.52 L214.98,382.85 L215.45,382.15 L215.93,381.49 L216.40,380.90 L216.87,380.31 L217.35,379.66 L217.82,378.98 L218.29,378.32 L218.76,377.71 L219.22,377.19 L219.67,376.81 L220.10,376.60 L220.52,376.59 L220.93,376.74 L221.34,377.03 L221.73,377.41 L222.12,377.84 L222.49,378.29 L222.85,378.73 L223.20,379.10 L223.55,379.45 L223.91,379.84 L224.26,380.25 L224.59,380.66 L224.91,381.04 L225.19,381.39 L225.42,381.68 L225.60,381.90" fill="none" stroke="#bd2b2b" stroke-width="1.5" stroke-linejoin="round" stroke-linecap="round" clip-path="url(#cc)"/>
<path d="M49.50,389.20 L49.92,389.20 L50.48,389.20 L51.14,389.20 L51.88,389.21 L52.66,389.21 L53.46,389.21 L54.25,389.20 L55.00,389.20 L55.74,389.20 L56.51,389.21 L57.30,389.23 L58.09,389.24 L58.87,389.24 L59.63,389.22 L60.34,389.18 L61.00,389.10 L61.60,388.98 L62.16,388.83 L62.68,388.65 L63.17,388.46 L63.64,388.25 L64.10,388.05 L64.55,387.86 L65.00,387.70 L65.45,387.54 L65.87,387.36 L66.28,387.19 L66.69,387.02 L67.09,386.87 L67.48,386.76 L67.89,386.70 L68.30,386.70 L68.72,386.77 L69.13,386.91 L69.54,387.11 L69.96,387.33 L70.38,387.57 L70.81,387.81 L71.25,388.02 L71.70,388.20 L72.16,388.35 L72.60,388.49 L73.05,388.62 L73.52,388.74 L74.01,388.85 L74.52,388.95 L75.09,389.03 L75.70,389.10 L76.37,389.15 L77.10,389.18 L77.86,389.19 L78.66,389.19 L79.49,389.18 L80.32,389.16 L81.16,389.13 L82.00,389.10 L82.85,389.07 L83.74,389.05 L84.65,389.03 L85.56,388.99 L86.47,388.94 L87.35,388.86 L88.20,388.75 L89.00,388.60 L89.74,388.40 L90.44,388.14 L91.11,387.86 L91.75,387.54 L92.38,387.22 L93.01,386.90 L93.64,386.59 L94.30,386.30 L94.97,386.04 L95.63,385.80 L96.29,385.57 L96.96,385.34 L97.63,385.10 L98.31,384.86 L99.00,384.59 L99.70,384.30 L100.44,383.95 L101.22,383.55 L102.02,383.11 L102.83,382.67 L103.62,382.25 L104.38,381.88 L105.08,381.59 L105.70,381.40 L106.24,381.35 L106.70,381.43 L107.10,381.59 L107.48,381.79 L107.83,382.01 L108.19,382.19 L108.57,382.30 L109.00,382.30 L109.46,382.25 L109.94,382.23 L110.43,382.18 L110.93,382.08 L111.44,381.88 L111.96,381.54 L112.48,381.03 L113.00,380.30 L113.54,379.34 L114.12,378.20 L114.70,376.88 L115.29,375.43 L115.87,373.85 L116.42,372.19 L116.94,370.46 L117.40,368.70 L117.80,366.84 L118.15,364.83 L118.45,362.71 L118.74,360.52 L119.01,358.30 L119.28,356.10 L119.58,353.95 L119.90,351.90 L120.26,349.88 L120.64,347.84 L121.04,345.80 L121.44,343.80 L121.83,341.87 L122.22,340.04 L122.57,338.34 L122.90,336.80 L123.19,335.55 L123.44,334.61 L123.67,333.86 L123.89,333.18 L124.10,332.45 L124.32,331.56 L124.55,330.38 L124.80,328.80 L125.08,326.77 L125.36,324.39 L125.66,321.75 L125.96,318.93 L126.27,316.01 L126.58,313.10 L126.89,310.26 L127.20,307.60 L127.51,304.99 L127.82,302.32 L128.13,299.63 L128.45,296.98 L128.77,294.44 L129.08,292.05 L129.39,289.89 L129.70,288.00 L130.00,286.43 L130.29,285.13 L130.57,284.05 L130.86,283.12 L131.15,282.31 L131.45,281.54 L131.76,280.75 L132.10,279.90 L132.47,279.01 L132.88,278.16 L133.31,277.34 L133.75,276.55 L134.18,275.77 L134.59,275.01 L134.97,274.25 L135.30,273.50 L135.57,272.76 L135.80,272.04 L136.00,271.34 L136.17,270.64 L136.33,269.95 L136.50,269.25 L136.69,268.54 L136.90,267.80 L137.14,266.96 L137.39,265.97 L137.66,264.93 L137.92,263.90 L138.20,262.97 L138.47,262.20 L138.74,261.69 L139.00,261.50 L139.26,261.62 L139.52,261.95 L139.77,262.50 L140.03,263.24 L140.28,264.15 L140.53,265.23 L140.77,266.45 L141.00,267.80 L141.22,269.31 L141.43,271.02 L141.62,272.89 L141.82,274.92 L142.01,277.07 L142.20,279.33 L142.40,281.68 L142.60,284.10 L142.81,286.67 L143.02,289.46 L143.23,292.38 L143.45,295.39 L143.67,298.42 L143.88,301.39 L144.09,304.24 L144.30,306.90 L144.51,309.44 L144.73,311.96 L144.95,314.42 L145.16,316.79 L145.37,319.06 L145.57,321.18 L145.74,323.14 L145.90,324.90 L146.02,326.39 L146.11,327.62 L146.17,328.64 L146.23,329.54 L146.28,330.39 L146.35,331.27 L146.46,332.24 L146.60,333.40 L146.78,334.75 L146.98,336.24 L147.19,337.81 L147.43,339.41 L147.69,341.00 L147.97,342.53 L148.27,343.95 L148.60,345.20 L148.96,346.27 L149.37,347.19 L149.81,348.01 L150.27,348.76 L150.73,349.49 L151.18,350.22 L151.61,351.02 L152.00,351.90 L152.36,352.85 L152.69,353.80 L153.00,354.78 L153.31,355.79 L153.60,356.83 L153.90,357.93 L154.19,359.08 L154.50,360.30 L154.81,361.63 L155.11,363.09 L155.40,364.63 L155.70,366.20 L156.00,367.77 L156.32,369.29 L156.65,370.71 L157.00,372.00 L157.36,373.18 L157.73,374.29 L158.10,375.34 L158.49,376.32 L158.90,377.25 L159.33,378.10 L159.80,378.88 L160.30,379.60 L160.86,380.23 L161.49,380.77 L162.16,381.23 L162.85,381.63 L163.54,381.98 L164.21,382.30 L164.84,382.60 L165.40,382.90 L165.89,383.17 L166.31,383.39 L166.69,383.58 L167.06,383.74 L167.42,383.89 L167.80,384.04 L168.22,384.21 L168.70,384.40 L169.25,384.62 L169.85,384.84 L170.49,385.07 L171.15,385.30 L171.82,385.54 L172.47,385.79 L173.11,386.04 L173.70,386.30 L174.25,386.58 L174.76,386.89 L175.26,387.21 L175.74,387.54 L176.22,387.85 L176.72,388.14 L177.24,388.40 L177.80,388.60 L178.32,388.75 L178.75,388.86 L179.15,388.94 L179.59,388.99 L180.14,389.02 L180.84,389.05 L181.78,389.07 L183.00,389.10 L184.50,389.13 L186.22,389.16 L188.13,389.17 L190.23,389.18 L192.48,389.19 L194.87,389.19 L197.38,389.20 L200.00,389.20 L202.96,389.20 L206.40,389.21 L210.10,389.21 L213.86,389.21 L217.50,389.20 L220.80,389.20 L223.57,389.20 L225.60,389.20" fill="none" stroke="#303790" stroke-width="1.5" stroke-linejoin="round" stroke-linecap="round" clip-path="url(#cc)"/>
<line x1="123.30" y1="326.30" x2="93.10" y2="326.30" stroke="#bd2b2b" stroke-width="1.35"/>
<path d="M87.10,326.30 L94.10,324.30 L93.80,326.30 L94.10,328.30 Z" fill="#bd2b2b" stroke="#bd2b2b" stroke-width="0.4" stroke-linejoin="round"/>
<line x1="146.20" y1="326.00" x2="176.90" y2="326.00" stroke="#303790" stroke-width="1.35"/>
<path d="M182.90,326.00 L175.90,324.00 L176.20,326.00 L175.90,328.00 Z" fill="#303790" stroke="#303790" stroke-width="0.4" stroke-linejoin="round"/>
<text x="87.60" y="317.10" font-size="7.8" text-anchor="start" fill="#bd2b2b" stroke="#bd2b2b" style="stroke-width:0.08px">x1000</text>
<text x="171.00" y="317.10" font-size="7.8" text-anchor="start" fill="#303790" stroke="#303790" style="stroke-width:0.08px">x10</text>
<path d="M315.10,389.10 L315.64,389.03 L316.36,388.94 L317.22,388.83 L318.18,388.71 L319.18,388.57 L320.18,388.42 L321.13,388.27 L322.00,388.10 L322.80,387.90 L323.60,387.65 L324.39,387.38 L325.16,387.11 L325.91,386.85 L326.64,386.63 L327.34,386.47 L328.00,386.40 L328.62,386.43 L329.19,386.57 L329.74,386.77 L330.26,387.01 L330.76,387.25 L331.26,387.47 L331.77,387.63 L332.30,387.70 L332.84,387.67 L333.38,387.56 L333.91,387.41 L334.45,387.22 L334.99,387.03 L335.53,386.86 L336.06,386.75 L336.60,386.70 L337.13,386.73 L337.66,386.82 L338.18,386.95 L338.70,387.11 L339.23,387.28 L339.77,387.45 L340.32,387.59 L340.90,387.70 L341.50,387.80 L342.12,387.90 L342.75,388.00 L343.39,388.09 L344.05,388.16 L344.70,388.19 L345.35,388.17 L346.00,388.10 L346.66,387.95 L347.33,387.74 L348.01,387.48 L348.69,387.18 L349.36,386.87 L350.00,386.56 L350.62,386.26 L351.20,386.00 L351.73,385.74 L352.22,385.45 L352.68,385.14 L353.12,384.86 L353.56,384.60 L353.99,384.41 L354.43,384.30 L354.90,384.30 L355.39,384.42 L355.89,384.66 L356.40,384.98 L356.92,385.36 L357.43,385.77 L357.94,386.18 L358.43,386.56 L358.90,386.90 L359.35,387.22 L359.77,387.58 L360.18,387.95 L360.58,388.30 L360.99,388.61 L361.40,388.87 L361.84,389.04 L362.30,389.10 L362.79,389.06 L363.31,388.93 L363.85,388.73 L364.39,388.46 L364.95,388.14 L365.50,387.76 L366.06,387.35 L366.60,386.90 L367.15,386.43 L367.70,385.92 L368.26,385.37 L368.82,384.77 L369.37,384.12 L369.90,383.39 L370.42,382.59 L370.90,381.70 L371.35,380.71 L371.76,379.64 L372.15,378.48 L372.52,377.26 L372.90,375.97 L373.28,374.65 L373.67,373.29 L374.10,371.90 L374.56,370.46 L375.04,368.93 L375.55,367.34 L376.06,365.72 L376.57,364.10 L377.06,362.48 L377.55,360.91 L378.00,359.40 L378.43,357.90 L378.86,356.38 L379.27,354.85 L379.68,353.36 L380.06,351.93 L380.43,350.61 L380.78,349.42 L381.10,348.40 L381.39,347.56 L381.66,346.86 L381.90,346.29 L382.12,345.83 L382.33,345.45 L382.55,345.14 L382.77,344.86 L383.00,344.60 L383.24,344.39 L383.49,344.26 L383.73,344.19 L383.98,344.17 L384.22,344.19 L384.48,344.22 L384.73,344.27 L385.00,344.30 L385.28,344.38 L385.56,344.54 L385.86,344.74 L386.16,344.94 L386.45,345.11 L386.75,345.20 L387.03,345.18 L387.30,345.00 L387.56,344.65 L387.82,344.16 L388.07,343.57 L388.31,342.89 L388.55,342.17 L388.78,341.43 L388.99,340.69 L389.20,340.00 L389.38,339.35 L389.52,338.72 L389.65,338.09 L389.77,337.44 L389.90,336.77 L390.06,336.05 L390.25,335.26 L390.50,334.40 L390.81,333.44 L391.18,332.38 L391.59,331.26 L392.02,330.09 L392.47,328.90 L392.90,327.72 L393.32,326.58 L393.70,325.50 L394.05,324.54 L394.38,323.70 L394.70,322.93 L395.01,322.15 L395.32,321.30 L395.61,320.32 L395.91,319.14 L396.20,317.70 L396.49,315.96 L396.77,313.97 L397.04,311.78 L397.31,309.46 L397.57,307.06 L397.84,304.64 L398.12,302.27 L398.40,300.00 L398.69,297.78 L399.00,295.55 L399.30,293.30 L399.61,291.06 L399.92,288.85 L400.22,286.67 L400.52,284.55 L400.80,282.50 L401.07,280.46 L401.33,278.39 L401.58,276.34 L401.83,274.34 L402.07,272.45 L402.32,270.70 L402.56,269.14 L402.80,267.80 L403.05,266.70 L403.29,265.80 L403.54,265.07 L403.78,264.49 L404.02,264.04 L404.26,263.69 L404.48,263.42 L404.70,263.20 L404.91,263.06 L405.10,263.04 L405.29,263.12 L405.47,263.29 L405.66,263.53 L405.83,263.84 L406.02,264.20 L406.20,264.60 L406.38,264.98 L406.55,265.34 L406.72,265.73 L406.89,266.19 L407.07,266.77 L407.26,267.54 L407.47,268.53 L407.70,269.80 L407.96,271.41 L408.26,273.33 L408.57,275.49 L408.90,277.83 L409.23,280.26 L409.54,282.71 L409.84,285.12 L410.10,287.40 L410.33,289.65 L410.54,291.97 L410.73,294.31 L410.91,296.64 L411.08,298.92 L411.25,301.10 L411.42,303.14 L411.60,305.00 L411.77,306.71 L411.92,308.32 L412.07,309.83 L412.22,311.23 L412.38,312.50 L412.55,313.64 L412.76,314.64 L413.00,315.50 L413.28,316.15 L413.58,316.57 L413.90,316.83 L414.25,316.97 L414.62,317.05 L415.00,317.13 L415.39,317.26 L415.80,317.50 L416.24,317.79 L416.72,318.05 L417.23,318.31 L417.75,318.59 L418.26,318.92 L418.75,319.33 L419.20,319.85 L419.60,320.50 L419.94,321.27 L420.23,322.14 L420.49,323.10 L420.72,324.15 L420.94,325.28 L421.15,326.48 L421.37,327.76 L421.60,329.10 L421.84,330.56 L422.06,332.16 L422.28,333.86 L422.50,335.62 L422.73,337.40 L422.96,339.17 L423.22,340.88 L423.50,342.50 L423.80,344.07 L424.11,345.67 L424.44,347.25 L424.78,348.79 L425.13,350.26 L425.50,351.64 L425.89,352.90 L426.30,354.00 L426.74,354.91 L427.20,355.63 L427.69,356.21 L428.19,356.71 L428.70,357.16 L429.21,357.63 L429.71,358.16 L430.20,358.80 L430.69,359.52 L431.18,360.25 L431.67,361.01 L432.16,361.80 L432.65,362.63 L433.12,363.50 L433.57,364.42 L434.00,365.40 L434.41,366.47 L434.79,367.63 L435.16,368.86 L435.51,370.13 L435.86,371.41 L436.20,372.66 L436.55,373.87 L436.90,375.00 L437.25,376.07 L437.58,377.13 L437.91,378.16 L438.24,379.16 L438.58,380.12 L438.93,381.03 L439.30,381.89 L439.70,382.70 L440.13,383.46 L440.60,384.18 L441.09,384.86 L441.59,385.49 L442.10,386.07 L442.59,386.58 L443.06,387.03 L443.50,387.40 L443.90,387.69 L444.27,387.91 L444.61,388.06 L444.95,388.15 L445.29,388.18 L445.63,388.16 L446.00,388.10 L446.40,388.00 L446.83,387.80 L447.28,387.47 L447.75,387.06 L448.22,386.62 L448.71,386.19 L449.21,385.83 L449.70,385.58 L450.20,385.50 L450.68,385.60 L451.15,385.86 L451.61,386.23 L452.07,386.67 L452.57,387.13 L453.09,387.56 L453.67,387.94 L454.30,388.20 L454.99,388.38 L455.72,388.52 L456.49,388.63 L457.30,388.71 L458.15,388.74 L459.03,388.74 L459.95,388.69 L460.90,388.60 L461.92,388.42 L463.02,388.13 L464.17,387.77 L465.35,387.39 L466.53,387.02 L467.68,386.70 L468.78,386.48 L469.80,386.40 L470.72,386.48 L471.56,386.70 L472.34,387.02 L473.10,387.39 L473.86,387.77 L474.64,388.13 L475.48,388.42 L476.40,388.60 L477.43,388.68 L478.57,388.69 L479.77,388.65 L480.99,388.58 L482.19,388.49 L483.34,388.38 L484.39,388.28 L485.30,388.20 L486.10,388.12 L486.82,388.03 L487.47,387.93 L488.06,387.82 L488.57,387.72 L489.01,387.63 L489.39,387.56 L489.70,387.50" fill="none" stroke="#bd2b2b" stroke-width="1.5" stroke-linejoin="round" stroke-linecap="round" clip-path="url(#cd)"/>
<path d="M315.00,389.10 L318.72,389.07 L323.96,389.04 L330.23,389.01 L337.04,388.97 L343.88,388.91 L350.27,388.84 L355.71,388.73 L359.70,388.60 L362.23,388.44 L363.75,388.25 L364.50,388.04 L364.70,387.81 L364.59,387.56 L364.40,387.29 L364.36,387.00 L364.70,386.70 L365.30,386.38 L365.90,386.05 L366.48,385.70 L367.07,385.32 L367.65,384.93 L368.23,384.52 L368.81,384.07 L369.40,383.60 L369.99,383.10 L370.57,382.59 L371.16,382.06 L371.75,381.49 L372.34,380.90 L372.93,380.27 L373.51,379.61 L374.10,378.90 L374.70,378.15 L375.31,377.37 L375.93,376.55 L376.55,375.69 L377.15,374.80 L377.74,373.87 L378.29,372.91 L378.80,371.90 L379.27,370.85 L379.71,369.75 L380.11,368.62 L380.50,367.44 L380.87,366.24 L381.22,365.01 L381.56,363.76 L381.90,362.50 L382.23,361.23 L382.53,359.96 L382.82,358.66 L383.09,357.34 L383.37,355.99 L383.64,354.59 L383.91,353.13 L384.20,351.60 L384.50,349.98 L384.80,348.26 L385.10,346.48 L385.40,344.65 L385.70,342.81 L386.00,340.99 L386.30,339.21 L386.60,337.50 L386.89,335.87 L387.18,334.30 L387.46,332.76 L387.74,331.24 L388.02,329.73 L388.31,328.19 L388.60,326.62 L388.90,325.00 L389.21,323.31 L389.54,321.56 L389.88,319.77 L390.22,317.97 L390.56,316.17 L390.89,314.39 L391.20,312.66 L391.50,311.00 L391.77,309.45 L392.01,308.00 L392.23,306.62 L392.45,305.25 L392.67,303.85 L392.92,302.38 L393.19,300.77 L393.50,299.00 L393.86,296.99 L394.24,294.78 L394.66,292.42 L395.09,289.99 L395.54,287.56 L396.00,285.20 L396.45,282.99 L396.90,281.00 L397.35,279.19 L397.82,277.48 L398.29,275.86 L398.76,274.34 L399.24,272.92 L399.70,271.59 L400.16,270.35 L400.60,269.20 L401.04,268.14 L401.48,267.16 L401.92,266.27 L402.34,265.48 L402.75,264.78 L403.14,264.19 L403.49,263.69 L403.80,263.30 L404.06,263.05 L404.27,262.94 L404.45,262.95 L404.61,263.06 L404.75,263.22 L404.89,263.42 L405.03,263.62 L405.20,263.80 L405.38,263.91 L405.56,263.96 L405.73,264.01 L405.91,264.09 L406.10,264.27 L406.29,264.58 L406.49,265.07 L406.70,265.80 L406.92,266.75 L407.16,267.86 L407.40,269.13 L407.64,270.55 L407.90,272.11 L408.16,273.82 L408.43,275.65 L408.70,277.60 L408.99,279.79 L409.29,282.29 L409.61,284.98 L409.93,287.78 L410.25,290.57 L410.55,293.28 L410.84,295.78 L411.10,298.00 L411.32,299.88 L411.50,301.51 L411.65,302.96 L411.80,304.31 L411.95,305.63 L412.13,307.00 L412.34,308.50 L412.60,310.20 L412.91,312.09 L413.27,314.11 L413.65,316.21 L414.06,318.39 L414.48,320.60 L414.92,322.82 L415.36,325.03 L415.80,327.20 L416.25,329.34 L416.71,331.49 L417.18,333.64 L417.66,335.79 L418.14,337.94 L418.63,340.10 L419.12,342.25 L419.60,344.40 L420.08,346.59 L420.57,348.83 L421.06,351.10 L421.55,353.36 L422.04,355.57 L422.53,357.70 L423.02,359.72 L423.50,361.60 L423.98,363.34 L424.46,364.97 L424.93,366.50 L425.41,367.95 L425.88,369.32 L426.35,370.63 L426.83,371.89 L427.30,373.10 L427.76,374.26 L428.20,375.34 L428.64,376.36 L429.08,377.32 L429.53,378.23 L430.01,379.09 L430.53,379.91 L431.10,380.70 L431.73,381.45 L432.41,382.16 L433.13,382.83 L433.88,383.46 L434.64,384.04 L435.41,384.57 L436.17,385.06 L436.90,385.50 L437.62,385.88 L438.33,386.20 L439.04,386.46 L439.76,386.69 L440.47,386.88 L441.18,387.06 L441.89,387.23 L442.60,387.40 L443.27,387.57 L443.88,387.72 L444.47,387.86 L445.08,387.98 L445.72,388.09 L446.45,388.20 L447.30,388.30 L448.30,388.40 L449.35,388.50 L450.36,388.59 L451.42,388.68 L452.60,388.76 L453.97,388.83 L455.61,388.89 L457.60,388.95 L460.00,389.00 L463.12,389.04 L467.02,389.06 L471.40,389.08 L475.98,389.09 L480.47,389.09 L484.58,389.09 L488.02,389.10 L490.50,389.10" fill="none" stroke="#303790" stroke-width="1.5" stroke-linejoin="round" stroke-linecap="round" clip-path="url(#cd)"/>
<line x1="393.50" y1="326.20" x2="363.10" y2="326.20" stroke="#bd2b2b" stroke-width="1.35"/>
<path d="M357.10,326.20 L364.10,324.20 L363.80,326.20 L364.10,328.20 Z" fill="#bd2b2b" stroke="#bd2b2b" stroke-width="0.4" stroke-linejoin="round"/>
<line x1="416.40" y1="326.10" x2="447.90" y2="326.10" stroke="#303790" stroke-width="1.35"/>
<path d="M453.90,326.10 L446.90,324.10 L447.20,326.10 L446.90,328.10 Z" fill="#303790" stroke="#303790" stroke-width="0.4" stroke-linejoin="round"/>
<text x="358.30" y="316.90" font-size="7.8" text-anchor="start" fill="#bd2b2b" stroke="#bd2b2b" style="stroke-width:0.08px">x100</text>
</svg></body></html>
